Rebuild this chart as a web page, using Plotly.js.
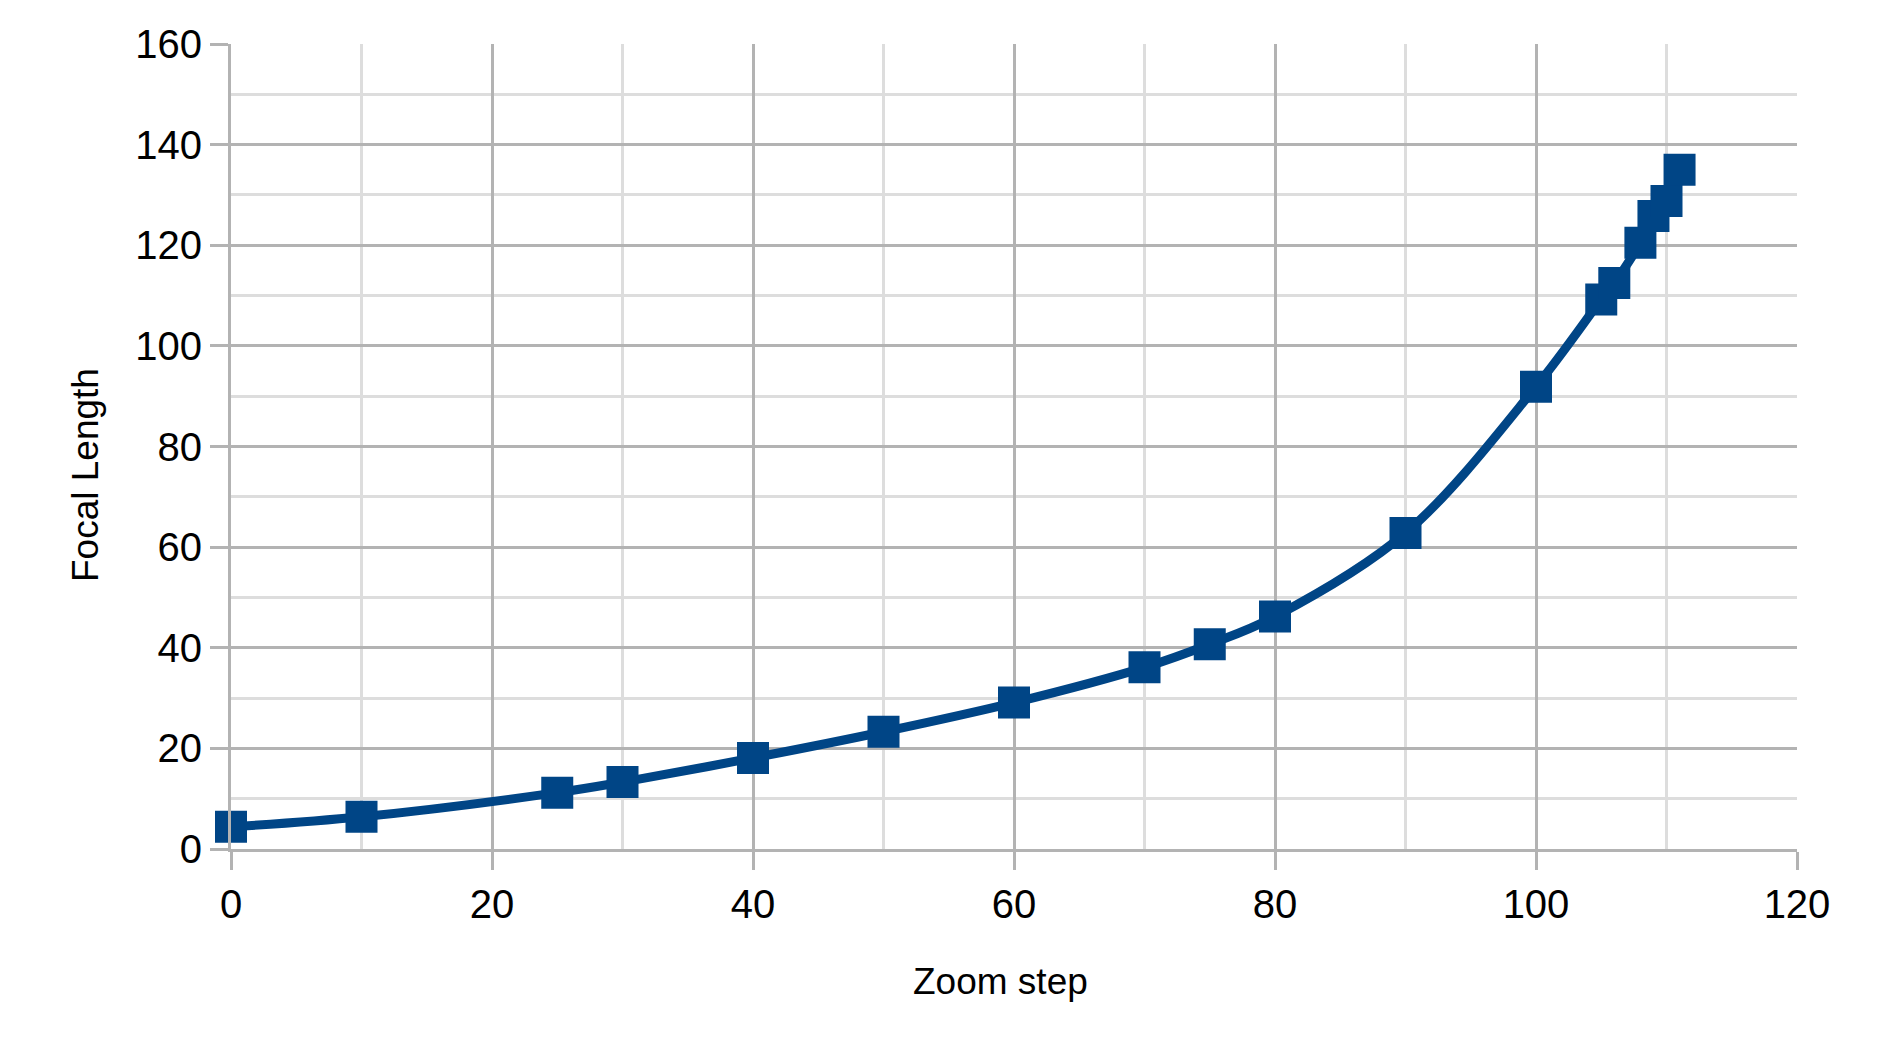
<!DOCTYPE html>
<html>
<head>
<meta charset="utf-8">
<script src="https://cdn.plot.ly/plotly-3.0.1.min.js"></script>
<style>
  html, body { margin: 0; padding: 0; background: #fff; }
  #chart { width: 1890px; height: 1063px; }
</style>
</head>
<body>
<div id="chart"></div>
<script>
/* focal length vs zoom step */
const zoomStep = [0, 10, 25, 30, 40, 50, 60, 70, 75, 80, 90, 100, 105, 106, 108, 109, 110, 111];
const focalLength = [4.4, 6.4, 11.2, 13.3, 18.1, 23.3, 29.1, 36.1, 40.7, 46.2, 62.8, 91.9,
  109.2, 112.5, 120.5, 125.8, 128.8, 135.0];

const BLUE = '#004586';
const MAJOR = '#b3b3b3';
const MINOR = '#dddddd';
const FONT = 'Liberation Sans, Arial, sans-serif';

function axis(range, dtick, minorTick) {
  return {
    range: range, dtick: dtick, tick0: 0,
    showgrid: true, gridcolor: MAJOR, gridwidth: 3,
    minor: { dtick: minorTick, showgrid: true, gridcolor: MINOR, gridwidth: 3 },
    showline: true, linecolor: MAJOR, linewidth: 3,
    ticks: 'outside', ticklen: 18, tickwidth: 3, tickcolor: MAJOR,
    zeroline: false, fixedrange: true,
    tickfont: { size: 40, color: '#000', family: FONT },
  };
}

const trace = {
  type: 'scatter', mode: 'lines+markers',
  x: zoomStep, y: focalLength,
  line: { color: BLUE, width: 9, shape: 'spline', smoothing: 1 },
  marker: { symbol: 'square', size: 32, color: BLUE },
  cliponaxis: false, hoverinfo: 'x+y',
};

const layout = {
  width: 1890, height: 1063,
  paper_bgcolor: '#fff', plot_bgcolor: '#fff',
  font: { family: FONT, color: '#000' },
  margin: { l: 231, r: 93, t: 44, b: 214 },
  showlegend: false,
  xaxis: axis([0, 120], 20, 10),
  yaxis: axis([0, 160], 20, 10),
  annotations: [
    { text: 'Zoom step', xref: 'paper', yref: 'paper', x: 0.4914, y: -0.1640,
      xanchor: 'center', yanchor: 'middle', showarrow: false,
      font: { size: 37, family: FONT, color: '#000' } },
    { text: 'Focal Length', xref: 'paper', yref: 'paper', x: -0.0926, y: 0.4646,
      xanchor: 'center', yanchor: 'middle', textangle: -90, showarrow: false,
      font: { size: 37, family: FONT, color: '#000' } },
  ],
};

Plotly.newPlot('chart', [trace], layout, { displayModeBar: false, staticPlot: true });
</script>
</body>
</html>
